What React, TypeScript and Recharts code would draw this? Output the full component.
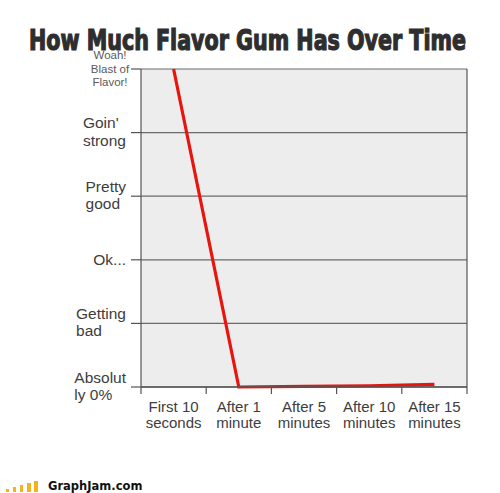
import { LineChart, Line, XAxis, YAxis, CartesianGrid, ReferenceLine } from "recharts"

const categories = [
  "First 10\nseconds",
  "After 1\nminute",
  "After 5\nminutes",
  "After 10\nminutes",
  "After 15\nminutes",
]
const flavor = [5, 0, 0.01, 0.02, 0.04]
const levelLabels = [
  "Absolut\nly 0%",
  "Getting\nbad",
  "Ok...",
  "Pretty\ngood",
  "Goin'\nstrong",
  "Woah!\nBlast of\nFlavor!",
]
const levelTicks = levelLabels.map((_, i) => i)

const data = categories.map((c, i) => ({ x: i + 0.5, name: c, flavor: flavor[i] }))
// band edges get a tick line, band centres get the label
const xTicks = [...categories.flatMap((_, i) => [i, i + 0.5]), categories.length]

const labelFont = '15.5px "Liberation Sans", Arial, sans-serif'
const textColor = "#3d3d3d"

let ctx: CanvasRenderingContext2D | null = null
function textWidth(s: string) {
  if (!ctx) ctx = document.createElement("canvas").getContext("2d")
  if (!ctx) return s.length * 8
  ctx.font = labelFont
  return ctx.measureText(s).width
}

function LevelTick({ x, y, payload }: any) {
  const lines = levelLabels[payload.value].split("\n")
  if (payload.value === levelLabels.length - 1) {
    const cx = x - 17
    return (
      <text x={cx} y={y - 10} textAnchor="middle" fontSize={11.5} fill="#5a5a5a" fontFamily='"Liberation Sans", Arial, sans-serif'>
        {lines.map((l, i) => (
          <tspan key={l} x={cx} dy={i ? 13.5 : 0}>{l}</tspan>
        ))}
      </text>
    )
  }
  const w = Math.max(...lines.map(textWidth))
  const left = x - w - 1
  const startY = lines.length === 1 ? y + 5 : y - 4.5
  return (
    <text x={left} y={startY} fontSize={15.5} fill={textColor} fontFamily='"Liberation Sans", Arial, sans-serif'>
      {lines.map((l, i) => (
        <tspan key={l} x={left} dy={i ? 17.5 : 0}>{l}</tspan>
      ))}
    </text>
  )
}

function TimeTick({ x, y, payload }: any) {
  const v = payload.value
  if (Number.isInteger(v)) {
    return <line x1={x} x2={x} y1={y} y2={y + 7} stroke="#555" strokeWidth={1.2} />
  }
  const lines = categories[Math.floor(v)].split("\n")
  return (
    <text x={x} y={y + 25} textAnchor="middle" fontSize={15} fill={textColor} fontFamily='"Liberation Sans", Arial, sans-serif'>
      {lines.map((l, i) => (
        <tspan key={l} x={x} dy={i ? 16 : 0}>{l}</tspan>
      ))}
    </text>
  )
}

function Logo() {
  const bars = [3, 5, 7, 9, 11]
  return (
    <svg width={160} height={20} style={{ position: "absolute", left: 0, top: 473 }}>
      {bars.map((h, i) => (
        <rect key={i} x={6 + i * 7} y={19 - h} width={i > 2 ? 4 : 3} height={h} fill="#f5b21c" />
      ))}
      <text x={48} y={17} fontSize={11.5} fontWeight="bold" fontFamily='"DejaVu Sans", Verdana, sans-serif' fill="#111">
        GraphJam.com
      </text>
    </svg>
  )
}

export default function App() {
  return (
    <div style={{ position: "absolute", left: 0, top: 0, width: 500, height: 493, background: "#fff", overflow: "hidden" }}>
      <div style={{ position: "absolute", left: 0, top: 0 }}>
        <LineChart width={500} height={493} data={data} margin={{ top: 69, right: 33, left: 81, bottom: 66 }}>
          <CartesianGrid vertical={false} fill="#ededed" stroke="#6a6a6a" strokeWidth={1.2} />
          <XAxis
            dataKey="x"
            type="number"
            domain={[0, categories.length]}
            ticks={xTicks}
            interval={0}
            height={40}
            tickSize={0}
            tickMargin={0}
            tickLine={false}
            stroke="#555"
            strokeWidth={1.4}
            tick={<TimeTick />}
          />
          <YAxis
            type="number"
            domain={[0, levelTicks.length - 1]}
            ticks={levelTicks}
            interval={0}
            width={60}
            tickSize={10}
            tickMargin={4}
            stroke="#555"
            strokeWidth={1.2}
            tick={<LevelTick />}
          />
          <ReferenceLine x={categories.length} stroke="#555" strokeWidth={1.2} />
          <Line
            type="linear"
            dataKey="flavor"
            stroke="#e8150f"
            strokeWidth={3.2}
            dot={false}
            isAnimationActive={false}
          />
        </LineChart>
      </div>
      <svg width={500} height={60} style={{ position: "absolute", left: 0, top: 0 }}>
        <text
          x={29}
          y={50}
          fontSize={28}
          fontWeight="bold"
          fontFamily='"Liberation Sans Narrow", "DejaVu Sans Condensed", sans-serif'
          fill="#2e2e2e"
          stroke="#2e2e2e"
          strokeWidth={1.2}
          textLength={437}
          lengthAdjust="spacingAndGlyphs"
        >
          How Much Flavor Gum Has Over Time
        </text>
      </svg>
      <Logo />
    </div>
  )
}
